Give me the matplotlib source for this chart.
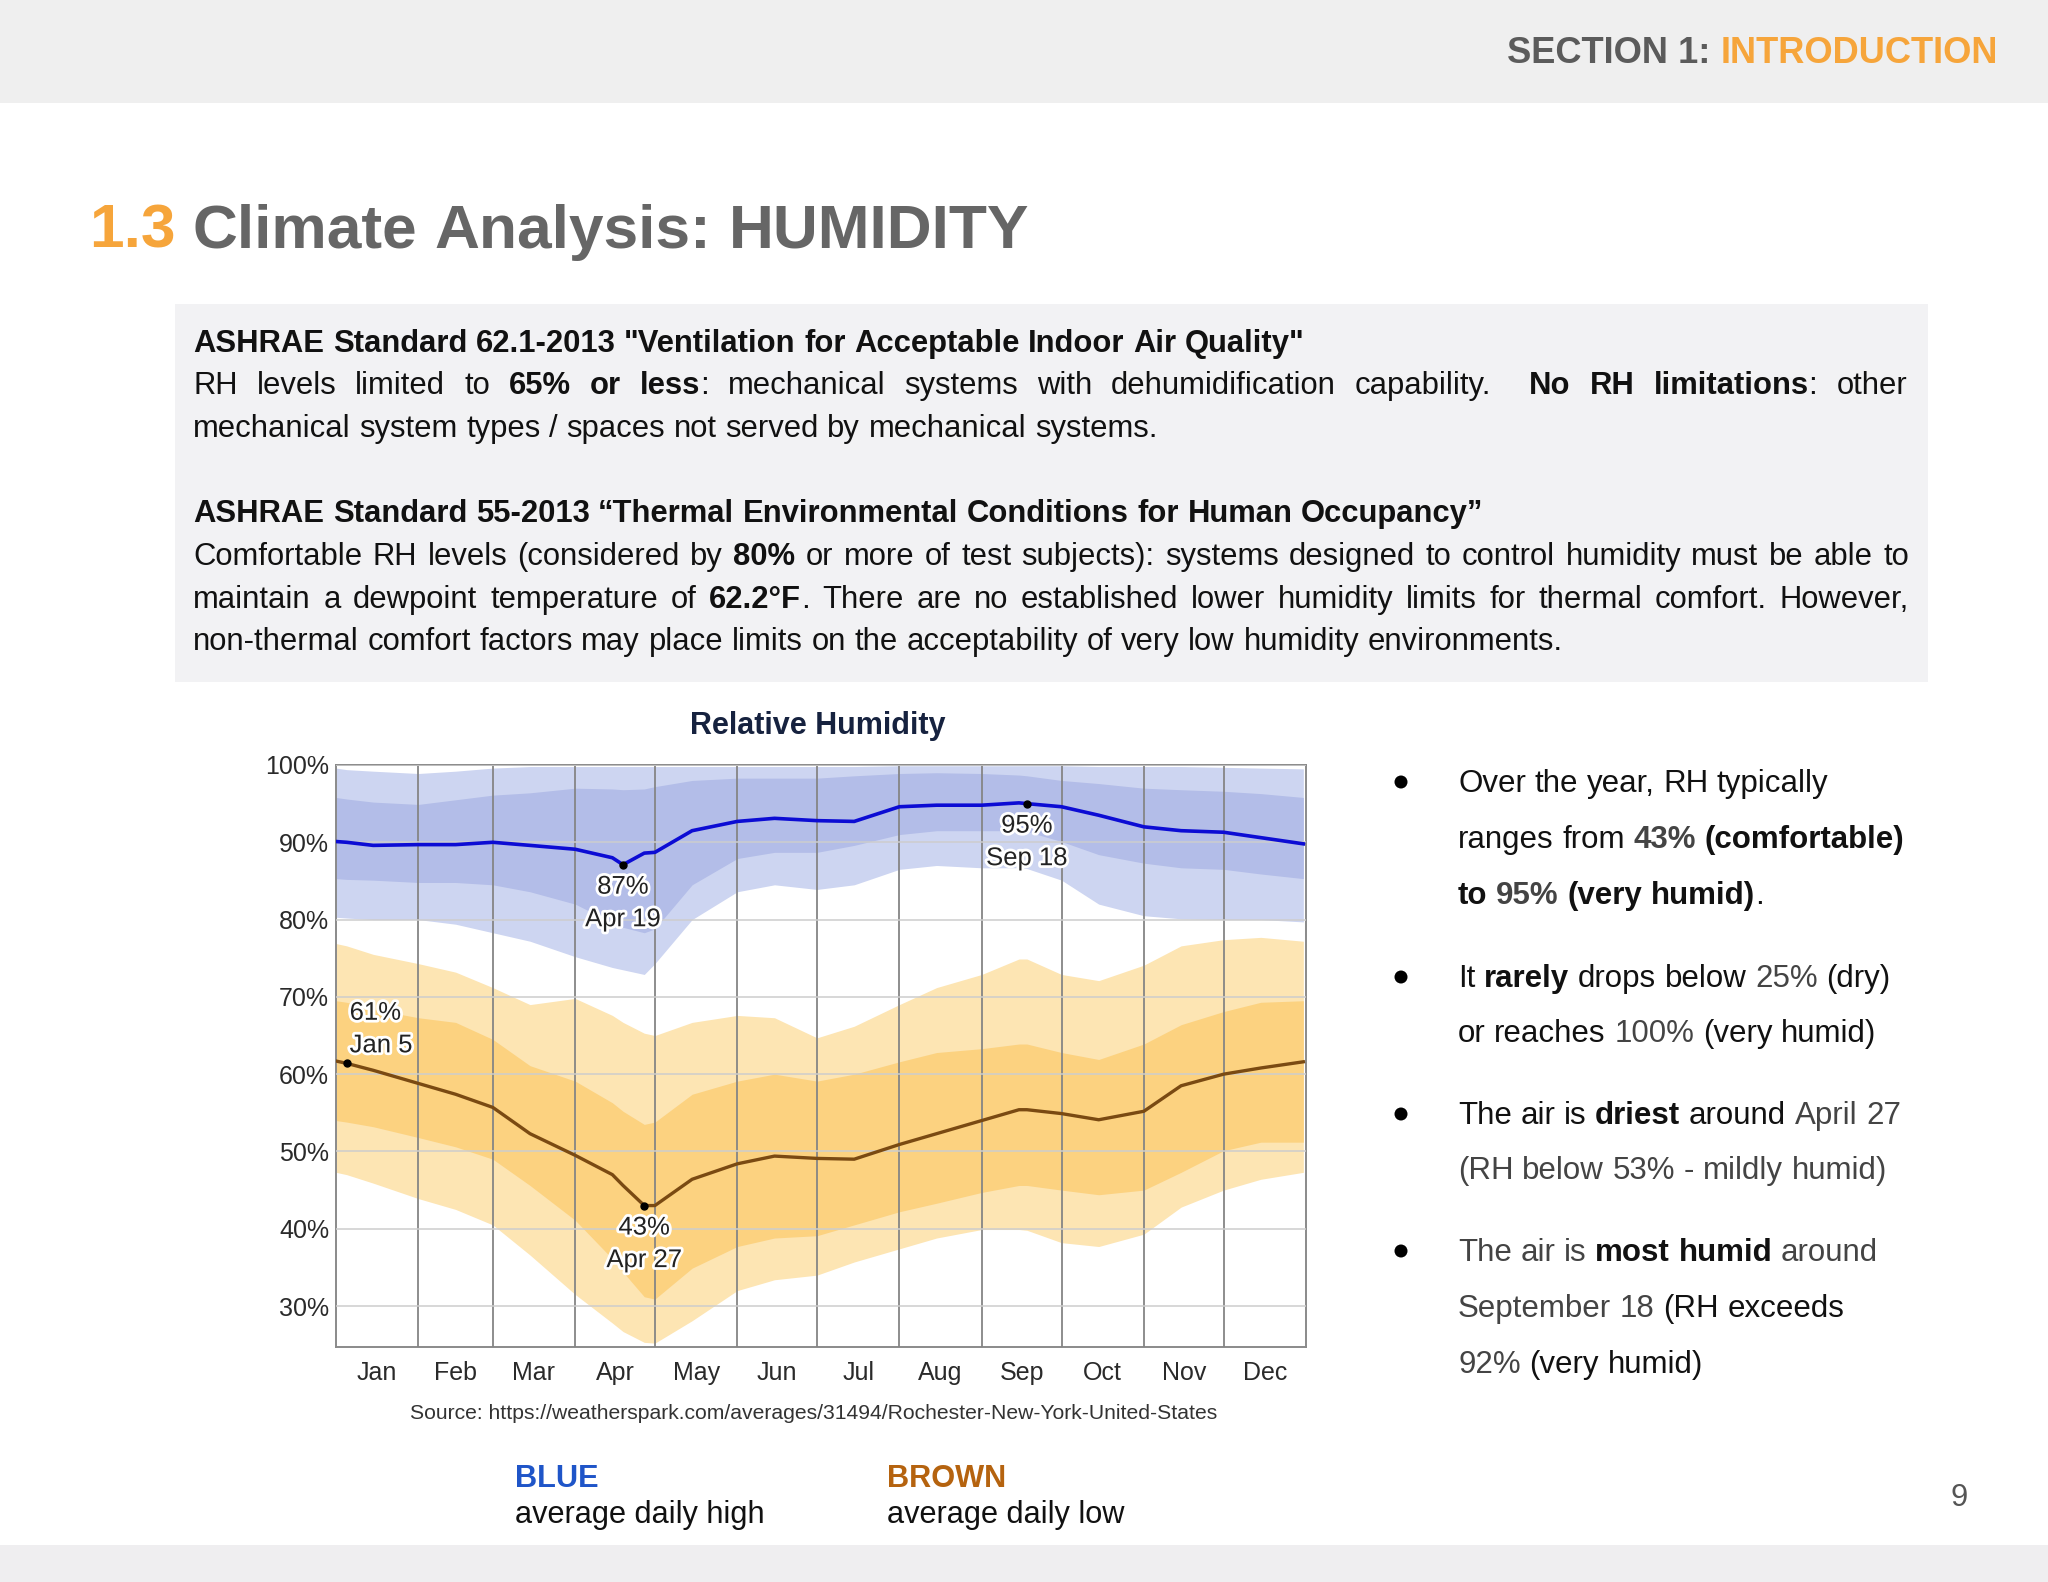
import re
import matplotlib
matplotlib.use('Agg')
import matplotlib.pyplot as plt
from matplotlib.patches import Rectangle, Ellipse
import matplotlib.patheffects as pe
from matplotlib.ticker import FixedLocator, NullFormatter

W, H = 2048, 1582
FONT = ['Liberation Sans', 'DejaVu Sans']
plt.rcParams['font.family'] = FONT

# ---------------- data ----------------
day_of_year = [0, 4, 14, 31, 45, 59, 73, 90, 104, 108, 116, 120, 134, 151, 165,
               181, 195, 212, 226, 243, 257, 260, 273, 287, 304, 318, 334, 348, 364]

# daily HIGH relative humidity (blue)
high_p90 = [99.6, 99.4, 99.2, 98.9, 99.2, 99.6, 99.8, 99.8, 99.8, 99.8, 99.8, 99.8, 99.8, 99.8, 99.8,
            99.8, 99.8, 99.9, 99.9, 99.9, 99.9, 99.9, 99.9, 99.8, 99.8, 99.8, 99.7, 99.6, 99.5]
high_p75 = [95.8, 95.6, 95.2, 94.9, 95.5, 96.1, 96.4, 97.0, 96.9, 96.8, 96.9, 97.2, 98.0, 98.3, 98.3,
            98.3, 98.6, 98.9, 99.0, 98.9, 98.7, 98.6, 98.0, 97.6, 97.0, 96.8, 96.6, 96.3, 95.8]
high_med = [90.1, 90.0, 89.6, 89.7, 89.7, 90.0, 89.6, 89.1, 88.0, 87.1, 88.6, 88.7, 91.5, 92.7, 93.1,
            92.8, 92.7, 94.6, 94.8, 94.8, 95.1, 95.0, 94.6, 93.5, 92.0, 91.5, 91.3, 90.6, 89.8]
high_p25 = [85.3, 85.2, 85.1, 84.8, 84.8, 84.5, 83.6, 82.0, 79.6, 79.0, 78.3, 78.8, 84.5, 87.9, 88.7,
            88.7, 89.6, 91.0, 91.5, 91.5, 91.5, 91.4, 90.1, 88.4, 87.3, 86.7, 86.5, 85.9, 85.3]
high_p10 = [80.3, 80.2, 80.0, 80.0, 79.4, 78.3, 77.2, 75.2, 73.8, 73.5, 72.9, 74.3, 80.0, 83.6, 84.5,
            83.9, 84.5, 86.5, 87.0, 86.7, 86.7, 86.6, 85.1, 82.0, 80.5, 80.1, 80.0, 80.0, 79.7]

# daily LOW relative humidity (brown / orange)
low_p90 = [76.9, 76.6, 75.5, 74.3, 73.2, 71.2, 69.0, 69.8, 67.6, 66.7, 65.3, 65.0, 66.7, 67.6, 67.3,
           64.7, 66.2, 69.0, 71.2, 72.9, 74.9, 74.9, 72.9, 72.1, 74.1, 76.6, 77.4, 77.7, 77.2]
low_p75 = [69.5, 69.3, 68.4, 67.3, 66.7, 64.5, 61.1, 59.1, 56.3, 55.2, 53.5, 53.8, 57.4, 59.1, 60.0,
           59.1, 60.0, 61.6, 62.8, 63.3, 63.9, 63.9, 62.8, 61.9, 63.9, 66.4, 68.1, 69.3, 69.5]
low_med = [61.7, 61.4, 60.5, 58.8, 57.4, 55.7, 52.3, 49.5, 47.0, 45.6, 43.0, 43.0, 46.4, 48.4, 49.4,
           49.1, 49.0, 50.9, 52.3, 54.0, 55.4, 55.4, 54.9, 54.1, 55.2, 58.5, 60.0, 60.8, 61.6]
low_p25 = [54.0, 53.8, 53.2, 51.8, 50.6, 49.0, 45.6, 41.1, 36.1, 34.4, 31.2, 30.9, 34.9, 37.7, 38.8,
           39.1, 40.5, 42.2, 43.3, 44.7, 45.6, 45.6, 45.0, 44.4, 45.0, 47.3, 50.1, 51.2, 51.2]
low_p10 = [47.3, 47.0, 45.9, 43.9, 42.5, 40.5, 36.6, 31.5, 27.8, 26.7, 25.3, 25.2, 28.1, 32.0, 33.4,
           34.0, 35.7, 37.4, 38.8, 39.9, 39.9, 39.8, 38.2, 37.7, 39.3, 42.8, 45.0, 46.4, 47.3]

month_labels = ['Jan', 'Feb', 'Mar', 'Apr', 'May', 'Jun', 'Jul', 'Aug', 'Sep', 'Oct', 'Nov', 'Dec']
month_start_days = [0, 31, 59, 90, 120, 151, 181, 212, 243, 273, 304, 334, 365]
y_tick_values = [30, 40, 50, 60, 70, 80, 90, 100]

# annotations: (series, day, label, placement)
annotations = [('low', 4, '61%\nJan 5', 'above_right'),
               ('high', 108, '87%\nApr 19', 'below'),
               ('low', 116, '43%\nApr 27', 'below'),
               ('high', 260, '95%\nSep 18', 'below')]

# ---------------- figure ----------------
fig = plt.figure(figsize=(W / 100, H / 100), dpi=100)
fig.patch.set_facecolor('white')
renderer = fig.canvas.get_renderer()


def fx(x):
    return x / W


def fy(y):
    return 1 - y / H


_cache = {}


def measure(s, size, weight='normal'):
    key = (s, size, weight)
    if key not in _cache:
        t = fig.text(0, 0, s, fontsize=size, fontweight=weight, family=FONT)
        _cache[key] = t.get_window_extent(renderer).width
        t.remove()
    return _cache[key]


def fit_size(s, weight, target_px, ref=20.0):
    return ref * target_px / measure(s, ref, weight)


def space_w(size, weight='normal'):
    return measure('a a', size, weight) - measure('aa', size, weight)


def draw_runs(x, y, runs, size, justify_to=None):
    toks = []
    pending = 0
    for text, weight, color in runs:
        for p in re.split(r'( +)', text):
            if p == '':
                continue
            if p.isspace():
                pending += len(p)
            else:
                toks.append((p, weight, color, pending))
                pending = 0
    widths = [measure(t[0], size, t[1]) for t in toks]
    sp = space_w(size)
    nsp = sum(t[3] for t in toks)
    natural = sum(widths) + sp * nsp
    extra = 0
    if justify_to is not None and nsp > 0:
        extra = (justify_to - x - natural) / nsp
    cx = x
    for (t, wgt, col, ns), w in zip(toks, widths):
        cx += ns * (sp + extra)
        fig.text(fx(cx), fy(y), t, fontsize=size, fontweight=wgt, color=col,
                 ha='left', va='baseline', family=FONT)
        cx += w


# header band & footer band
fig.patches.append(Rectangle((0, fy(103)), 1, 103 / H, transform=fig.transFigure,
                             facecolor='#efefef', edgecolor='none', zorder=0))
fig.patches.append(Rectangle((0, 0), 1, (H - 1545) / H, transform=fig.transFigure,
                             facecolor='#efeef0', edgecolor='none', zorder=0))

GRAY_HDR = '#5b5b5b'
ORANGE = '#f6a53b'
sec_a, sec_b = 'SECTION 1:', 'INTRODUCTION'
hs = fit_size(sec_a + ' ' + sec_b, 'bold', 491)
wb = measure(sec_b, hs, 'bold')
fig.text(fx(1998), fy(63), sec_b, fontsize=hs, fontweight='bold', color=ORANGE,
         ha='right', va='baseline')
fig.text(fx(1998 - wb - space_w(hs, 'bold')), fy(63), sec_a, fontsize=hs, fontweight='bold',
         color=GRAY_HDR, ha='right', va='baseline')

# main title
ts = fit_size('1.3 Climate Analysis: HUMIDITY', 'bold', 936)
draw_runs(89, 248, [('1.3', 'bold', ORANGE), (' Climate Analysis: HUMIDITY', 'bold', '#666666')], ts)

# gray text box
fig.patches.append(Rectangle((fx(175), fy(682)), (1928 - 175) / W, (682 - 304) / H,
                             transform=fig.transFigure, facecolor='#f2f2f4', edgecolor='none', zorder=0))
BLK = '#111111'
bs = fit_size('ASHRAE Standard 62.1-2013 "Ventilation for Acceptable Indoor Air Quality"', 'bold', 1107)
box_lines = [
    (352, [('ASHRAE Standard 62.1-2013 "Ventilation for Acceptable Indoor Air Quality"', 'bold', BLK)], None),
    (394, [('RH levels limited to ', 'normal', BLK), ('65% or less', 'bold', BLK),
           (': mechanical systems with dehumidification capability.  ', 'normal', BLK),
           ('No RH limitations', 'bold', BLK), (': other', 'normal', BLK)], 1907),
    (437, [('mechanical system types / spaces not served by mechanical systems.', 'normal', BLK)], None),
    (522, [('ASHRAE Standard 55-2013 \u201cThermal Environmental Conditions for Human Occupancy\u201d', 'bold', BLK)], None),
    (565, [('Comfortable RH levels (considered by ', 'normal', BLK), ('80%', 'bold', BLK),
           (' or more of test subjects): systems designed to control humidity must be able to', 'normal', BLK)], 1909),
    (608, [('maintain a dewpoint temperature of ', 'normal', BLK), ('62.2\u00b0F', 'bold', BLK),
           ('. There are no established lower humidity limits for thermal comfort. However,', 'normal', BLK)], 1909),
    (650, [('non-thermal comfort factors may place limits on the acceptability of very low humidity environments.',
            'normal', BLK)], None),
]
for y, runs, jt in box_lines:
    draw_runs(193, y, runs, bs, jt)

# ---------------- chart ----------------
ax = fig.add_axes([fx(336), fy(1347), (1306 - 336) / W, (1347 - 765) / H])
ax.set_facecolor('white')
C_HL, C_HD, C_HLINE = '#cdd5f1', '#b3bde8', '#0c0cd4'
C_LL, C_LD, C_LLINE = '#fde5b3', '#fcd280', '#7a4a12'
ax.fill_between(day_of_year, high_p10, high_p90, color=C_HL, lw=0, zorder=1)
ax.fill_between(day_of_year, high_p25, high_p75, color=C_HD, lw=0, zorder=1.1)
ax.fill_between(day_of_year, low_p10, low_p90, color=C_LL, lw=0, zorder=1)
ax.fill_between(day_of_year, low_p25, low_p75, color=C_LD, lw=0, zorder=1.1)
ax.plot(day_of_year, high_med, color=C_HLINE, lw=2.6, zorder=3, solid_joinstyle='round')
ax.plot(day_of_year, low_med, color=C_LLINE, lw=2.4, zorder=3, solid_joinstyle='round')

ax.set_xlim(0, 365)
ax.set_ylim(24.7, 100)
centers = [(a + b) / 2 for a, b in zip(month_start_days[:-1], month_start_days[1:])]
ax.set_xticks(centers)
ax.set_xticklabels(month_labels)
ax.xaxis.set_minor_locator(FixedLocator(month_start_days[1:-1]))
ax.xaxis.set_minor_formatter(NullFormatter())
ax.set_yticks(y_tick_values)
ax.set_yticklabels([f'{v}%' for v in y_tick_values])
ax.tick_params(axis='both', which='both', length=0, labelsize=18, labelcolor='#2a2a2a')
ax.tick_params(axis='x', pad=10)
ax.tick_params(axis='y', pad=5)
ax.set_axisbelow(False)
ax.grid(which='minor', axis='x', color='#858585', lw=1.3, zorder=2.5)
ax.grid(which='major', axis='y', color='#cdcdcd', lw=1.1, zorder=2.5)
ax.grid(which='major', axis='x', visible=False)
for s in ax.spines.values():
    s.set_color('#8a8a8a')
    s.set_linewidth(1.4)

series = {'high': high_med, 'low': low_med}
halo = [pe.withStroke(linewidth=4, foreground='white')]
for name, d, label, place in annotations:
    v = series[name][day_of_year.index(d)]
    ax.plot([d], [v], 'o', color='black', ms=5, zorder=4)
    if place == 'below':
        ax.annotate(label, (d, v), xytext=(0, -10), textcoords='offset pixels', ha='center', va='top',
                    fontsize=18.5, color='#222222', linespacing=1.45, path_effects=halo, zorder=5)
    else:
        ax.annotate(label, (d, v), xytext=(3, 6), textcoords='offset pixels', ha='left', va='bottom',
                    fontsize=18.5, color='#222222', linespacing=1.45, path_effects=halo, zorder=5)

# chart title & source
cs = fit_size('Relative Humidity', 'bold', 256)
fig.text(fx(818), fy(734), 'Relative Humidity', fontsize=cs, fontweight='bold', color='#16223f',
         ha='center', va='baseline')
src = 'Source: https://weatherspark.com/averages/31494/Rochester-New-York-United-States'
ss = fit_size(src, 'normal', 807)
fig.text(fx(814), fy(1419), src, fontsize=ss, color='#333333', ha='center', va='baseline')

# legend text
ls = fit_size('average daily high', 'normal', 249)
fig.text(fx(515), fy(1487), 'BLUE', fontsize=ls, fontweight='bold', color='#1f55c8', ha='left', va='baseline')
fig.text(fx(515), fy(1523), 'average daily high', fontsize=ls, color=BLK, ha='left', va='baseline')
fig.text(fx(887), fy(1487), 'BROWN', fontsize=ls, fontweight='bold', color='#b5630f', ha='left', va='baseline')
fig.text(fx(887), fy(1523), 'average daily low', fontsize=ls, color=BLK, ha='left', va='baseline')
fig.text(fx(1959), fy(1506), '9', fontsize=ls, color='#555555', ha='center', va='baseline')

# bullets
GR = '#444444'
us = fit_size('Over the year, RH typically', 'normal', 370)
bullet_lines = [
    (792, True, [('Over the year, RH typically', 'normal', BLK)]),
    (848, False, [('ranges from ', 'normal', BLK), ('43%', 'bold', GR), (' (comfortable)', 'bold', BLK)]),
    (904, False, [('to ', 'bold', BLK), ('95%', 'bold', GR), (' (very humid)', 'bold', BLK), ('.', 'normal', BLK)]),
    (987, True, [('It ', 'normal', BLK), ('rarely', 'bold', BLK), (' drops below ', 'normal', BLK),
                 ('25%', 'normal', GR), (' (dry)', 'normal', BLK)]),
    (1042, False, [('or reaches ', 'normal', BLK), ('100%', 'normal', GR), (' (very humid)', 'normal', BLK)]),
    (1124, True, [('The air is ', 'normal', BLK), ('driest', 'bold', BLK), (' around ', 'normal', BLK),
                  ('April 27', 'normal', GR)]),
    (1179, False, [('(RH below 53% - mildly humid)', 'normal', GR)]),
    (1261, True, [('The air is ', 'normal', GR), ('most humid', 'bold', BLK), (' around', 'normal', GR)]),
    (1317, False, [('September 18 ', 'normal', GR), ('(RH exceeds', 'normal', BLK)]),
    (1373, False, [('92%', 'normal', GR), (' (very humid)', 'normal', BLK)]),
]
for y, has_bullet, runs in bullet_lines:
    draw_runs(1458, y, runs, us)
    if has_bullet:
        fig.patches.append(Ellipse((fx(1401), fy(y - 10)), 13 / W, 13 / H, transform=fig.transFigure,
                                   facecolor='black', edgecolor='none'))

fig.savefig('out.png', dpi=100, facecolor='white')
